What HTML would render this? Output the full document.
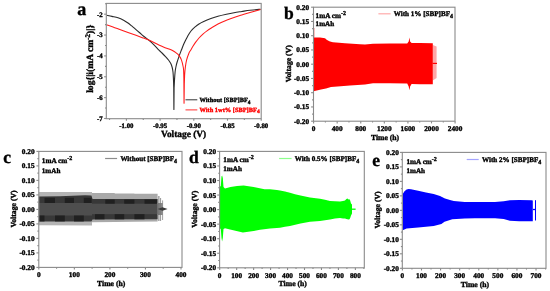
<!DOCTYPE html>
<html><head><meta charset="utf-8"><style>
html,body{margin:0;padding:0;background:#fff;width:550px;height:291px;overflow:hidden}
svg{display:block;filter:blur(0.4px)}
text{font-family:'Liberation Serif', 'Times New Roman', serif;text-rendering:geometricPrecision;stroke-width:0.36px}
</style></head><body>
<svg width="550" height="291" viewBox="0 0 550 291">
<rect width="550" height="291" fill="#fff"/>
<path d="M106.60,15.20 C107.50,15.40 110.10,15.97 112.00,16.40 C113.90,16.83 116.07,17.17 118.00,17.80 C119.93,18.43 121.93,19.33 123.60,20.20 C125.27,21.07 126.60,22.00 128.00,23.00 C129.40,24.00 130.67,25.10 132.00,26.20 C133.33,27.30 134.67,28.47 136.00,29.60 C137.33,30.73 138.72,31.90 140.00,33.00 C141.28,34.10 142.05,34.87 143.70,36.20 C145.35,37.53 148.10,39.47 149.90,41.00 C151.70,42.53 153.08,43.97 154.50,45.40 C155.92,46.83 157.15,48.33 158.40,49.60 C159.65,50.87 160.82,51.83 162.00,53.00 C163.18,54.17 164.42,55.43 165.50,56.60 C166.58,57.77 167.62,58.85 168.50,60.00 C169.38,61.15 170.18,62.25 170.80,63.50 C171.42,64.75 171.83,66.08 172.20,67.50 C172.57,68.92 172.78,69.92 173.00,72.00 C173.22,74.08 173.38,77.33 173.50,80.00 C173.62,82.67 173.71,86.67 173.75,88.00 L173.90,109.40 L174.10,88.00 C174.17,86.67 174.33,82.67 174.50,80.00 C174.67,77.33 174.87,74.17 175.10,72.00 C175.33,69.83 175.58,68.58 175.90,67.00 C176.22,65.42 176.43,64.40 177.00,62.50 C177.57,60.60 178.55,57.72 179.30,55.60 C180.05,53.48 180.72,51.82 181.50,49.80 C182.28,47.78 182.97,45.77 184.00,43.50 C185.03,41.23 186.53,38.28 187.70,36.20 C188.87,34.12 189.70,32.60 191.00,31.00 C192.30,29.40 194.17,27.77 195.50,26.60 C196.83,25.43 197.72,24.80 199.00,24.00 C200.28,23.20 201.22,22.70 203.20,21.80 C205.18,20.90 208.43,19.53 210.90,18.60 C213.37,17.67 215.42,16.93 218.00,16.20 C220.58,15.47 223.73,14.78 226.40,14.20 C229.07,13.62 231.43,13.15 234.00,12.70 C236.57,12.25 239.13,11.90 241.80,11.50 C244.47,11.10 246.87,10.68 250.00,10.30 C253.13,9.92 258.83,9.38 260.60,9.20" fill="none" stroke="#2a2a2a" stroke-width="1.1" stroke-linejoin="round"/>
<path d="M106.60,24.80 C107.67,25.17 110.68,26.17 113.00,27.00 C115.32,27.83 118.00,28.88 120.50,29.80 C123.00,30.72 125.42,31.58 128.00,32.50 C130.58,33.42 133.50,34.40 136.00,35.30 C138.50,36.20 140.68,37.02 143.00,37.90 C145.32,38.78 147.90,39.75 149.90,40.60 C151.90,41.45 153.42,42.22 155.00,43.00 C156.58,43.78 157.90,44.60 159.40,45.30 C160.90,46.00 162.40,46.58 164.00,47.20 C165.60,47.82 167.58,48.45 169.00,49.00 C170.42,49.55 171.50,50.00 172.50,50.50 C173.50,51.00 174.12,51.38 175.00,52.00 C175.88,52.62 176.98,53.38 177.80,54.20 C178.62,55.02 179.32,56.00 179.90,56.90 C180.48,57.80 180.90,58.62 181.30,59.60 C181.70,60.58 182.00,61.65 182.30,62.80 C182.60,63.95 182.88,65.30 183.10,66.50 C183.32,67.70 183.47,68.08 183.60,70.00 C183.72,71.92 183.81,76.67 183.85,78.00 L184.05,103.20 L184.30,84.00 C184.37,82.33 184.53,76.73 184.70,74.00 C184.87,71.27 185.00,69.87 185.30,67.60 C185.60,65.33 185.90,62.80 186.50,60.40 C187.10,58.00 188.18,54.93 188.90,53.20 C189.62,51.47 190.10,51.20 190.80,50.00 C191.50,48.80 192.32,47.27 193.10,46.00 C193.88,44.73 194.52,43.73 195.50,42.40 C196.48,41.07 197.72,39.43 199.00,38.00 C200.28,36.57 201.87,35.00 203.20,33.80 C204.53,32.60 205.72,31.73 207.00,30.80 C208.28,29.87 209.07,29.33 210.90,28.20 C212.73,27.07 215.42,25.32 218.00,24.00 C220.58,22.68 223.73,21.40 226.40,20.30 C229.07,19.20 231.43,18.28 234.00,17.40 C236.57,16.52 239.13,15.82 241.80,15.00 C244.47,14.18 246.87,13.43 250.00,12.50 C253.13,11.57 258.83,9.92 260.60,9.40" fill="none" stroke="#ff1a1a" stroke-width="1.05" stroke-linejoin="round"/>
<rect x="106.3" y="3.4" width="154.90" height="115.30" fill="none" stroke="#8a8a8a" stroke-width="1.1"/>
<line x1="104.10" y1="14.20" x2="106.30" y2="14.20" stroke="#8a8a8a" stroke-width="1.1"/>
<text x="102.70" y="16.50" font-size="6.8" text-anchor="end" fill="#000" stroke="#000" font-weight="bold">-2</text>
<line x1="104.10" y1="35.06" x2="106.30" y2="35.06" stroke="#8a8a8a" stroke-width="1.1"/>
<text x="102.70" y="37.36" font-size="6.8" text-anchor="end" fill="#000" stroke="#000" font-weight="bold">-3</text>
<line x1="104.10" y1="55.92" x2="106.30" y2="55.92" stroke="#8a8a8a" stroke-width="1.1"/>
<text x="102.70" y="58.22" font-size="6.8" text-anchor="end" fill="#000" stroke="#000" font-weight="bold">-4</text>
<line x1="104.10" y1="76.78" x2="106.30" y2="76.78" stroke="#8a8a8a" stroke-width="1.1"/>
<text x="102.70" y="79.08" font-size="6.8" text-anchor="end" fill="#000" stroke="#000" font-weight="bold">-5</text>
<line x1="104.10" y1="97.64" x2="106.30" y2="97.64" stroke="#8a8a8a" stroke-width="1.1"/>
<text x="102.70" y="99.94" font-size="6.8" text-anchor="end" fill="#000" stroke="#000" font-weight="bold">-6</text>
<line x1="104.10" y1="118.50" x2="106.30" y2="118.50" stroke="#8a8a8a" stroke-width="1.1"/>
<text x="102.70" y="120.80" font-size="6.8" text-anchor="end" fill="#000" stroke="#000" font-weight="bold">-7</text>
<line x1="105.00" y1="3.77" x2="106.30" y2="3.77" stroke="#8a8a8a" stroke-width="1.1"/>
<line x1="105.00" y1="24.63" x2="106.30" y2="24.63" stroke="#8a8a8a" stroke-width="1.1"/>
<line x1="105.00" y1="45.49" x2="106.30" y2="45.49" stroke="#8a8a8a" stroke-width="1.1"/>
<line x1="105.00" y1="66.35" x2="106.30" y2="66.35" stroke="#8a8a8a" stroke-width="1.1"/>
<line x1="105.00" y1="87.21" x2="106.30" y2="87.21" stroke="#8a8a8a" stroke-width="1.1"/>
<line x1="105.00" y1="108.07" x2="106.30" y2="108.07" stroke="#8a8a8a" stroke-width="1.1"/>
<line x1="126.40" y1="118.70" x2="126.40" y2="120.70" stroke="#8a8a8a" stroke-width="1.1"/>
<text x="126.40" y="127.70" font-size="6.8" text-anchor="middle" fill="#000" stroke="#000" font-weight="bold">-1.00</text>
<line x1="160.10" y1="118.70" x2="160.10" y2="120.70" stroke="#8a8a8a" stroke-width="1.1"/>
<text x="160.10" y="127.70" font-size="6.8" text-anchor="middle" fill="#000" stroke="#000" font-weight="bold">-0.95</text>
<line x1="193.80" y1="118.70" x2="193.80" y2="120.70" stroke="#8a8a8a" stroke-width="1.1"/>
<text x="193.80" y="127.70" font-size="6.8" text-anchor="middle" fill="#000" stroke="#000" font-weight="bold">-0.90</text>
<line x1="227.50" y1="118.70" x2="227.50" y2="120.70" stroke="#8a8a8a" stroke-width="1.1"/>
<text x="227.50" y="127.70" font-size="6.8" text-anchor="middle" fill="#000" stroke="#000" font-weight="bold">-0.85</text>
<line x1="261.20" y1="118.70" x2="261.20" y2="120.70" stroke="#8a8a8a" stroke-width="1.1"/>
<text x="261.20" y="127.70" font-size="6.8" text-anchor="middle" fill="#000" stroke="#000" font-weight="bold">-0.80</text>
<line x1="109.55" y1="118.70" x2="109.55" y2="120.00" stroke="#8a8a8a" stroke-width="1.1"/>
<line x1="143.25" y1="118.70" x2="143.25" y2="120.00" stroke="#8a8a8a" stroke-width="1.1"/>
<line x1="176.95" y1="118.70" x2="176.95" y2="120.00" stroke="#8a8a8a" stroke-width="1.1"/>
<line x1="210.65" y1="118.70" x2="210.65" y2="120.00" stroke="#8a8a8a" stroke-width="1.1"/>
<line x1="244.35" y1="118.70" x2="244.35" y2="120.00" stroke="#8a8a8a" stroke-width="1.1"/>
<text x="183.60" y="137.20" font-size="9.4" text-anchor="middle" fill="#000" stroke="#000" font-weight="bold">Voltage (V)</text>
<text x="93.40" y="58.80" font-size="9.6" text-anchor="middle" fill="#000" stroke="#000" font-weight="bold" transform="rotate(-90 93.4 58.8)">log{|i(mA cm<tspan dy="-3.2" font-size="7">-2</tspan><tspan dy="3.2">)|}</tspan></text>
<text x="77.20" y="14.80" font-size="18" text-anchor="start" fill="#000" stroke="#000" font-weight="bold">a</text>
<line x1="185.50" y1="99.80" x2="197.30" y2="99.80" stroke="#333" stroke-width="1.0"/>
<text x="199.50" y="102.40" font-size="6.4" text-anchor="start" fill="#000" stroke="#000" font-weight="bold">Without [SBP]BF<tspan dy="1.5" font-size="5.4">4</tspan></text>
<line x1="185.50" y1="109.90" x2="197.30" y2="109.90" stroke="#ff3030" stroke-width="1.0"/>
<text x="199.50" y="111.90" font-size="6.4" text-anchor="start" fill="#ff0000" stroke="#ff0000" font-weight="bold">With 1wt% [SBP]BF<tspan dy="1.5" font-size="5.4">4</tspan></text>
<polygon points="313.60,37.40 320.00,37.50 325.00,38.30 327.00,40.00 330.00,41.60 333.00,42.30 345.00,43.20 360.00,44.20 365.00,44.60 373.00,43.80 390.00,43.50 407.20,43.40 408.70,41.40 409.40,37.60 410.10,41.40 411.60,43.10 420.00,43.00 432.80,43.30 432.80,84.30 420.00,84.30 411.60,84.00 410.10,86.40 409.40,90.20 408.70,86.40 407.20,83.60 390.00,83.30 373.00,83.20 365.00,84.60 350.00,85.60 337.50,86.40 331.00,86.90 326.00,88.40 321.00,89.60 313.60,91.20" fill="#ff0000"/>
<line x1="313.90" y1="28.00" x2="313.90" y2="38.00" stroke="#ff4040" stroke-width="0.8"/>
<polygon points="432.80,45.00 436.60,46.50 436.60,78.00 432.80,80.50" fill="#ff0000" opacity="0.35"/>
<line x1="432.50" y1="63.40" x2="437.00" y2="63.40" stroke="#ff0000" stroke-width="1.2"/>
<rect x="313.5" y="7.2" width="141.50" height="114.00" fill="none" stroke="#8a8a8a" stroke-width="1.1"/>
<line x1="311.10" y1="7.20" x2="313.50" y2="7.20" stroke="#8a8a8a" stroke-width="1.1"/>
<text x="309.10" y="9.70" font-size="7.3" text-anchor="end" fill="#000" stroke="#000" font-weight="bold">0.20</text>
<line x1="311.10" y1="21.45" x2="313.50" y2="21.45" stroke="#8a8a8a" stroke-width="1.1"/>
<text x="309.10" y="23.95" font-size="7.3" text-anchor="end" fill="#000" stroke="#000" font-weight="bold">0.15</text>
<line x1="311.10" y1="35.70" x2="313.50" y2="35.70" stroke="#8a8a8a" stroke-width="1.1"/>
<text x="309.10" y="38.20" font-size="7.3" text-anchor="end" fill="#000" stroke="#000" font-weight="bold">0.10</text>
<line x1="311.10" y1="49.95" x2="313.50" y2="49.95" stroke="#8a8a8a" stroke-width="1.1"/>
<text x="309.10" y="52.45" font-size="7.3" text-anchor="end" fill="#000" stroke="#000" font-weight="bold">0.05</text>
<line x1="311.10" y1="64.20" x2="313.50" y2="64.20" stroke="#8a8a8a" stroke-width="1.1"/>
<text x="309.10" y="66.70" font-size="7.3" text-anchor="end" fill="#000" stroke="#000" font-weight="bold">0.00</text>
<line x1="311.10" y1="78.45" x2="313.50" y2="78.45" stroke="#8a8a8a" stroke-width="1.1"/>
<text x="309.10" y="80.95" font-size="7.3" text-anchor="end" fill="#000" stroke="#000" font-weight="bold">-0.05</text>
<line x1="311.10" y1="92.70" x2="313.50" y2="92.70" stroke="#8a8a8a" stroke-width="1.1"/>
<text x="309.10" y="95.20" font-size="7.3" text-anchor="end" fill="#000" stroke="#000" font-weight="bold">-0.10</text>
<line x1="311.10" y1="106.95" x2="313.50" y2="106.95" stroke="#8a8a8a" stroke-width="1.1"/>
<text x="309.10" y="109.45" font-size="7.3" text-anchor="end" fill="#000" stroke="#000" font-weight="bold">-0.15</text>
<line x1="311.10" y1="121.20" x2="313.50" y2="121.20" stroke="#8a8a8a" stroke-width="1.1"/>
<text x="309.10" y="123.70" font-size="7.3" text-anchor="end" fill="#000" stroke="#000" font-weight="bold">-0.20</text>
<line x1="312.10" y1="14.33" x2="313.50" y2="14.33" stroke="#8a8a8a" stroke-width="1.1"/>
<line x1="312.10" y1="28.58" x2="313.50" y2="28.58" stroke="#8a8a8a" stroke-width="1.1"/>
<line x1="312.10" y1="42.83" x2="313.50" y2="42.83" stroke="#8a8a8a" stroke-width="1.1"/>
<line x1="312.10" y1="57.08" x2="313.50" y2="57.08" stroke="#8a8a8a" stroke-width="1.1"/>
<line x1="312.10" y1="71.33" x2="313.50" y2="71.33" stroke="#8a8a8a" stroke-width="1.1"/>
<line x1="312.10" y1="85.58" x2="313.50" y2="85.58" stroke="#8a8a8a" stroke-width="1.1"/>
<line x1="312.10" y1="99.83" x2="313.50" y2="99.83" stroke="#8a8a8a" stroke-width="1.1"/>
<line x1="312.10" y1="114.08" x2="313.50" y2="114.08" stroke="#8a8a8a" stroke-width="1.1"/>
<line x1="313.60" y1="121.20" x2="313.60" y2="123.40" stroke="#8a8a8a" stroke-width="1.1"/>
<text x="313.60" y="131.20" font-size="7.3" text-anchor="middle" fill="#000" stroke="#000" font-weight="bold">0</text>
<line x1="325.39" y1="121.20" x2="325.39" y2="122.50" stroke="#8a8a8a" stroke-width="1.1"/>
<line x1="337.18" y1="121.20" x2="337.18" y2="123.40" stroke="#8a8a8a" stroke-width="1.1"/>
<text x="337.18" y="131.20" font-size="7.3" text-anchor="middle" fill="#000" stroke="#000" font-weight="bold">400</text>
<line x1="348.97" y1="121.20" x2="348.97" y2="122.50" stroke="#8a8a8a" stroke-width="1.1"/>
<line x1="360.76" y1="121.20" x2="360.76" y2="123.40" stroke="#8a8a8a" stroke-width="1.1"/>
<text x="360.76" y="131.20" font-size="7.3" text-anchor="middle" fill="#000" stroke="#000" font-weight="bold">800</text>
<line x1="372.55" y1="121.20" x2="372.55" y2="122.50" stroke="#8a8a8a" stroke-width="1.1"/>
<line x1="384.34" y1="121.20" x2="384.34" y2="123.40" stroke="#8a8a8a" stroke-width="1.1"/>
<text x="384.34" y="131.20" font-size="7.3" text-anchor="middle" fill="#000" stroke="#000" font-weight="bold">1200</text>
<line x1="396.13" y1="121.20" x2="396.13" y2="122.50" stroke="#8a8a8a" stroke-width="1.1"/>
<line x1="407.92" y1="121.20" x2="407.92" y2="123.40" stroke="#8a8a8a" stroke-width="1.1"/>
<text x="407.92" y="131.20" font-size="7.3" text-anchor="middle" fill="#000" stroke="#000" font-weight="bold">1600</text>
<line x1="419.71" y1="121.20" x2="419.71" y2="122.50" stroke="#8a8a8a" stroke-width="1.1"/>
<line x1="431.50" y1="121.20" x2="431.50" y2="123.40" stroke="#8a8a8a" stroke-width="1.1"/>
<text x="431.50" y="131.20" font-size="7.3" text-anchor="middle" fill="#000" stroke="#000" font-weight="bold">2000</text>
<line x1="443.29" y1="121.20" x2="443.29" y2="122.50" stroke="#8a8a8a" stroke-width="1.1"/>
<line x1="455.08" y1="121.20" x2="455.08" y2="123.40" stroke="#8a8a8a" stroke-width="1.1"/>
<text x="455.08" y="131.20" font-size="7.3" text-anchor="middle" fill="#000" stroke="#000" font-weight="bold">2400</text>
<text x="385.05" y="139.80" font-size="7.7" text-anchor="middle" fill="#000" stroke="#000" font-weight="bold">Time (h)</text>
<text x="290.90" y="63.80" font-size="7.7" text-anchor="middle" fill="#000" stroke="#000" font-weight="bold" transform="rotate(-90 290.9 63.800000000000004)">Voltage (V)</text>
<text x="284.00" y="18.90" font-size="17.5" text-anchor="start" fill="#000" stroke="#000" font-weight="bold">b</text>
<line x1="378.40" y1="13.80" x2="390.60" y2="13.80" stroke="#ffaaaa" stroke-width="1.2"/>
<text x="393.80" y="16.20" font-size="7.1" text-anchor="start" fill="#000" stroke="#000" font-weight="bold">With 1% [SBP]BF<tspan dy="1.6" font-size="6">4</tspan></text>
<text x="315.60" y="17.70" font-size="7.2" text-anchor="start" fill="#000" stroke="#000" font-weight="bold">1mA cm<tspan dy="-3.0" font-size="6">-2</tspan></text>
<text x="315.60" y="26.30" font-size="7.1" text-anchor="start" fill="#000" stroke="#000" font-weight="bold">1mAh</text>
<polygon points="38.80,192.00 92.00,192.00 92.00,225.60 38.80,225.30" fill="#b4b4b4"/>
<polygon points="92.00,193.10 114.70,193.10 114.70,193.40 134.40,193.40 134.40,193.80 157.60,193.80 157.60,221.60 134.40,221.80 114.70,222.10 92.00,222.30" fill="#a9a9a9"/>
<polygon points="38.80,196.50 60.00,196.30 85.00,195.30 91.50,195.50 92.50,198.90 157.60,198.90 157.60,219.30 92.50,219.50 91.50,221.40 38.80,221.40" fill="#383838"/>
<rect x="38.8" y="203" width="53.2" height="12.5" fill="#4e4e4e"/>
<rect x="92" y="203.7" width="65.6" height="10.5" fill="#4e4e4e"/>
<rect x="44.5" y="197.8" width="10.50" height="5.2" fill="#202020"/>
<rect x="64.8" y="197.8" width="9.20" height="5.2" fill="#202020"/>
<rect x="83.8" y="197.8" width="7.80" height="5.2" fill="#202020"/>
<rect x="105.3" y="199.6" width="9.40" height="4.1" fill="#202020"/>
<rect x="124.2" y="199.6" width="10.20" height="4.1" fill="#202020"/>
<rect x="144.5" y="199.6" width="12.40" height="4.1" fill="#202020"/>
<rect x="39.3" y="215.5" width="5.20" height="5.9" fill="#202020"/>
<rect x="55" y="215.5" width="9.80" height="5.9" fill="#202020"/>
<rect x="74" y="215.5" width="9.80" height="5.9" fill="#202020"/>
<rect x="95" y="214.2" width="9.50" height="5.1" fill="#202020"/>
<rect x="114.7" y="214.2" width="9.50" height="5.1" fill="#202020"/>
<rect x="134.4" y="214.2" width="10.10" height="5.1" fill="#202020"/>
<rect x="157.6" y="203" width="5.2" height="12" fill="#8a8a8a"/>
<line x1="158.90" y1="196.00" x2="158.90" y2="221.00" stroke="#666" stroke-width="0.9"/>
<line x1="160.60" y1="198.00" x2="160.60" y2="221.00" stroke="#777" stroke-width="0.8"/>
<line x1="162.60" y1="200.40" x2="162.60" y2="220.00" stroke="#888" stroke-width="0.8"/>
<polygon points="157.60,209.00 162.50,207.30 167.60,209.00 162.50,210.70" fill="#3a3a3a"/>
<rect x="38.8" y="151.4" width="143.20" height="116.00" fill="none" stroke="#8a8a8a" stroke-width="1.1"/>
<line x1="36.40" y1="151.40" x2="38.80" y2="151.40" stroke="#8a8a8a" stroke-width="1.1"/>
<text x="34.60" y="153.90" font-size="7.3" text-anchor="end" fill="#000" stroke="#000" font-weight="bold">0.20</text>
<line x1="36.40" y1="165.90" x2="38.80" y2="165.90" stroke="#8a8a8a" stroke-width="1.1"/>
<text x="34.60" y="168.40" font-size="7.3" text-anchor="end" fill="#000" stroke="#000" font-weight="bold">0.15</text>
<line x1="36.40" y1="180.40" x2="38.80" y2="180.40" stroke="#8a8a8a" stroke-width="1.1"/>
<text x="34.60" y="182.90" font-size="7.3" text-anchor="end" fill="#000" stroke="#000" font-weight="bold">0.10</text>
<line x1="36.40" y1="194.90" x2="38.80" y2="194.90" stroke="#8a8a8a" stroke-width="1.1"/>
<text x="34.60" y="197.40" font-size="7.3" text-anchor="end" fill="#000" stroke="#000" font-weight="bold">0.05</text>
<line x1="36.40" y1="209.40" x2="38.80" y2="209.40" stroke="#8a8a8a" stroke-width="1.1"/>
<text x="34.60" y="211.90" font-size="7.3" text-anchor="end" fill="#000" stroke="#000" font-weight="bold">0.00</text>
<line x1="36.40" y1="223.90" x2="38.80" y2="223.90" stroke="#8a8a8a" stroke-width="1.1"/>
<text x="34.60" y="226.40" font-size="7.3" text-anchor="end" fill="#000" stroke="#000" font-weight="bold">-0.05</text>
<line x1="36.40" y1="238.40" x2="38.80" y2="238.40" stroke="#8a8a8a" stroke-width="1.1"/>
<text x="34.60" y="240.90" font-size="7.3" text-anchor="end" fill="#000" stroke="#000" font-weight="bold">-0.10</text>
<line x1="36.40" y1="252.90" x2="38.80" y2="252.90" stroke="#8a8a8a" stroke-width="1.1"/>
<text x="34.60" y="255.40" font-size="7.3" text-anchor="end" fill="#000" stroke="#000" font-weight="bold">-0.15</text>
<line x1="36.40" y1="267.40" x2="38.80" y2="267.40" stroke="#8a8a8a" stroke-width="1.1"/>
<text x="34.60" y="269.90" font-size="7.3" text-anchor="end" fill="#000" stroke="#000" font-weight="bold">-0.20</text>
<line x1="37.40" y1="158.65" x2="38.80" y2="158.65" stroke="#8a8a8a" stroke-width="1.1"/>
<line x1="37.40" y1="173.15" x2="38.80" y2="173.15" stroke="#8a8a8a" stroke-width="1.1"/>
<line x1="37.40" y1="187.65" x2="38.80" y2="187.65" stroke="#8a8a8a" stroke-width="1.1"/>
<line x1="37.40" y1="202.15" x2="38.80" y2="202.15" stroke="#8a8a8a" stroke-width="1.1"/>
<line x1="37.40" y1="216.65" x2="38.80" y2="216.65" stroke="#8a8a8a" stroke-width="1.1"/>
<line x1="37.40" y1="231.15" x2="38.80" y2="231.15" stroke="#8a8a8a" stroke-width="1.1"/>
<line x1="37.40" y1="245.65" x2="38.80" y2="245.65" stroke="#8a8a8a" stroke-width="1.1"/>
<line x1="37.40" y1="260.15" x2="38.80" y2="260.15" stroke="#8a8a8a" stroke-width="1.1"/>
<line x1="38.80" y1="267.40" x2="38.80" y2="269.60" stroke="#8a8a8a" stroke-width="1.1"/>
<text x="38.80" y="277.40" font-size="7.3" text-anchor="middle" fill="#000" stroke="#000" font-weight="bold">0</text>
<line x1="56.57" y1="267.40" x2="56.57" y2="268.70" stroke="#8a8a8a" stroke-width="1.1"/>
<line x1="74.35" y1="267.40" x2="74.35" y2="269.60" stroke="#8a8a8a" stroke-width="1.1"/>
<text x="74.35" y="277.40" font-size="7.3" text-anchor="middle" fill="#000" stroke="#000" font-weight="bold">100</text>
<line x1="92.12" y1="267.40" x2="92.12" y2="268.70" stroke="#8a8a8a" stroke-width="1.1"/>
<line x1="109.90" y1="267.40" x2="109.90" y2="269.60" stroke="#8a8a8a" stroke-width="1.1"/>
<text x="109.90" y="277.40" font-size="7.3" text-anchor="middle" fill="#000" stroke="#000" font-weight="bold">200</text>
<line x1="127.67" y1="267.40" x2="127.67" y2="268.70" stroke="#8a8a8a" stroke-width="1.1"/>
<line x1="145.45" y1="267.40" x2="145.45" y2="269.60" stroke="#8a8a8a" stroke-width="1.1"/>
<text x="145.45" y="277.40" font-size="7.3" text-anchor="middle" fill="#000" stroke="#000" font-weight="bold">300</text>
<line x1="163.22" y1="267.40" x2="163.22" y2="268.70" stroke="#8a8a8a" stroke-width="1.1"/>
<line x1="181.00" y1="267.40" x2="181.00" y2="269.60" stroke="#8a8a8a" stroke-width="1.1"/>
<text x="181.00" y="277.40" font-size="7.3" text-anchor="middle" fill="#000" stroke="#000" font-weight="bold">400</text>
<text x="111.20" y="286.00" font-size="7.7" text-anchor="middle" fill="#000" stroke="#000" font-weight="bold">Time (h)</text>
<text x="16.20" y="209.00" font-size="7.7" text-anchor="middle" fill="#000" stroke="#000" font-weight="bold" transform="rotate(-90 16.199999999999996 208.99999999999997)">Voltage (V)</text>
<text x="3.20" y="162.90" font-size="17.5" text-anchor="start" fill="#000" stroke="#000" font-weight="bold">c</text>
<line x1="105.10" y1="158.50" x2="117.10" y2="158.50" stroke="#8c8c8c" stroke-width="1.2"/>
<text x="120.40" y="160.90" font-size="7.1" text-anchor="start" fill="#000" stroke="#000" font-weight="bold">Without [SBP]BF<tspan dy="1.6" font-size="6">4</tspan></text>
<text x="41.80" y="163.00" font-size="7.2" text-anchor="start" fill="#000" stroke="#000" font-weight="bold">1mA cm<tspan dy="-3.0" font-size="6">-2</tspan></text>
<text x="41.80" y="172.90" font-size="7.1" text-anchor="start" fill="#000" stroke="#000" font-weight="bold">1mAh</text>
<polygon points="219.60,187.00 220.80,186.00 221.50,176.50 222.10,175.40 222.80,178.00 223.50,187.00 225.00,188.60 230.50,187.00 237.00,186.00 243.60,185.50 253.70,187.00 264.50,189.20 270.00,189.30 276.90,190.10 280.00,190.60 285.00,191.60 290.00,192.70 295.00,194.20 300.50,195.50 310.00,197.50 316.00,198.20 320.00,198.70 325.00,199.80 330.00,200.90 335.00,201.30 340.00,201.40 343.00,201.00 345.00,200.50 346.40,199.00 347.50,198.60 348.50,199.50 349.50,199.20 350.20,200.50 351.00,203.50 352.00,204.50 352.00,213.50 351.00,215.50 350.20,218.00 349.50,219.20 348.50,219.40 347.50,219.20 346.40,219.00 345.00,218.60 343.00,218.40 340.00,217.90 335.00,218.50 330.00,219.40 320.00,220.90 310.00,221.80 300.50,223.40 290.00,225.90 285.00,226.80 280.00,227.70 270.00,228.60 260.00,229.80 253.70,231.00 242.90,232.50 230.00,229.50 225.00,228.20 223.50,229.00 222.80,238.00 222.10,241.40 221.50,238.00 220.80,229.00 219.60,228.20" fill="#00ff00"/>
<line x1="351.00" y1="209.20" x2="355.60" y2="209.20" stroke="#00ff00" stroke-width="1.3"/>
<rect x="219.6" y="151.4" width="144.70" height="116.40" fill="none" stroke="#8a8a8a" stroke-width="1.1"/>
<line x1="217.20" y1="151.40" x2="219.60" y2="151.40" stroke="#8a8a8a" stroke-width="1.1"/>
<text x="216.10" y="153.90" font-size="7.3" text-anchor="end" fill="#000" stroke="#000" font-weight="bold">0.20</text>
<line x1="217.20" y1="165.95" x2="219.60" y2="165.95" stroke="#8a8a8a" stroke-width="1.1"/>
<text x="216.10" y="168.45" font-size="7.3" text-anchor="end" fill="#000" stroke="#000" font-weight="bold">0.15</text>
<line x1="217.20" y1="180.50" x2="219.60" y2="180.50" stroke="#8a8a8a" stroke-width="1.1"/>
<text x="216.10" y="183.00" font-size="7.3" text-anchor="end" fill="#000" stroke="#000" font-weight="bold">0.10</text>
<line x1="217.20" y1="195.05" x2="219.60" y2="195.05" stroke="#8a8a8a" stroke-width="1.1"/>
<text x="216.10" y="197.55" font-size="7.3" text-anchor="end" fill="#000" stroke="#000" font-weight="bold">0.05</text>
<line x1="217.20" y1="209.60" x2="219.60" y2="209.60" stroke="#8a8a8a" stroke-width="1.1"/>
<text x="216.10" y="212.10" font-size="7.3" text-anchor="end" fill="#000" stroke="#000" font-weight="bold">0.00</text>
<line x1="217.20" y1="224.15" x2="219.60" y2="224.15" stroke="#8a8a8a" stroke-width="1.1"/>
<text x="216.10" y="226.65" font-size="7.3" text-anchor="end" fill="#000" stroke="#000" font-weight="bold">-0.05</text>
<line x1="217.20" y1="238.70" x2="219.60" y2="238.70" stroke="#8a8a8a" stroke-width="1.1"/>
<text x="216.10" y="241.20" font-size="7.3" text-anchor="end" fill="#000" stroke="#000" font-weight="bold">-0.10</text>
<line x1="217.20" y1="253.25" x2="219.60" y2="253.25" stroke="#8a8a8a" stroke-width="1.1"/>
<text x="216.10" y="255.75" font-size="7.3" text-anchor="end" fill="#000" stroke="#000" font-weight="bold">-0.15</text>
<line x1="217.20" y1="267.80" x2="219.60" y2="267.80" stroke="#8a8a8a" stroke-width="1.1"/>
<text x="216.10" y="270.30" font-size="7.3" text-anchor="end" fill="#000" stroke="#000" font-weight="bold">-0.20</text>
<line x1="218.20" y1="158.68" x2="219.60" y2="158.68" stroke="#8a8a8a" stroke-width="1.1"/>
<line x1="218.20" y1="173.23" x2="219.60" y2="173.23" stroke="#8a8a8a" stroke-width="1.1"/>
<line x1="218.20" y1="187.78" x2="219.60" y2="187.78" stroke="#8a8a8a" stroke-width="1.1"/>
<line x1="218.20" y1="202.33" x2="219.60" y2="202.33" stroke="#8a8a8a" stroke-width="1.1"/>
<line x1="218.20" y1="216.88" x2="219.60" y2="216.88" stroke="#8a8a8a" stroke-width="1.1"/>
<line x1="218.20" y1="231.43" x2="219.60" y2="231.43" stroke="#8a8a8a" stroke-width="1.1"/>
<line x1="218.20" y1="245.98" x2="219.60" y2="245.98" stroke="#8a8a8a" stroke-width="1.1"/>
<line x1="218.20" y1="260.53" x2="219.60" y2="260.53" stroke="#8a8a8a" stroke-width="1.1"/>
<line x1="219.70" y1="267.80" x2="219.70" y2="270.00" stroke="#8a8a8a" stroke-width="1.1"/>
<text x="219.70" y="277.80" font-size="7.3" text-anchor="middle" fill="#000" stroke="#000" font-weight="bold">0</text>
<line x1="228.18" y1="267.80" x2="228.18" y2="269.10" stroke="#8a8a8a" stroke-width="1.1"/>
<line x1="236.66" y1="267.80" x2="236.66" y2="270.00" stroke="#8a8a8a" stroke-width="1.1"/>
<text x="236.66" y="277.80" font-size="7.3" text-anchor="middle" fill="#000" stroke="#000" font-weight="bold">100</text>
<line x1="245.14" y1="267.80" x2="245.14" y2="269.10" stroke="#8a8a8a" stroke-width="1.1"/>
<line x1="253.62" y1="267.80" x2="253.62" y2="270.00" stroke="#8a8a8a" stroke-width="1.1"/>
<text x="253.62" y="277.80" font-size="7.3" text-anchor="middle" fill="#000" stroke="#000" font-weight="bold">200</text>
<line x1="262.10" y1="267.80" x2="262.10" y2="269.10" stroke="#8a8a8a" stroke-width="1.1"/>
<line x1="270.58" y1="267.80" x2="270.58" y2="270.00" stroke="#8a8a8a" stroke-width="1.1"/>
<text x="270.58" y="277.80" font-size="7.3" text-anchor="middle" fill="#000" stroke="#000" font-weight="bold">300</text>
<line x1="279.06" y1="267.80" x2="279.06" y2="269.10" stroke="#8a8a8a" stroke-width="1.1"/>
<line x1="287.54" y1="267.80" x2="287.54" y2="270.00" stroke="#8a8a8a" stroke-width="1.1"/>
<text x="287.54" y="277.80" font-size="7.3" text-anchor="middle" fill="#000" stroke="#000" font-weight="bold">400</text>
<line x1="296.02" y1="267.80" x2="296.02" y2="269.10" stroke="#8a8a8a" stroke-width="1.1"/>
<line x1="304.50" y1="267.80" x2="304.50" y2="270.00" stroke="#8a8a8a" stroke-width="1.1"/>
<text x="304.50" y="277.80" font-size="7.3" text-anchor="middle" fill="#000" stroke="#000" font-weight="bold">500</text>
<line x1="312.98" y1="267.80" x2="312.98" y2="269.10" stroke="#8a8a8a" stroke-width="1.1"/>
<line x1="321.46" y1="267.80" x2="321.46" y2="270.00" stroke="#8a8a8a" stroke-width="1.1"/>
<text x="321.46" y="277.80" font-size="7.3" text-anchor="middle" fill="#000" stroke="#000" font-weight="bold">600</text>
<line x1="329.94" y1="267.80" x2="329.94" y2="269.10" stroke="#8a8a8a" stroke-width="1.1"/>
<line x1="338.42" y1="267.80" x2="338.42" y2="270.00" stroke="#8a8a8a" stroke-width="1.1"/>
<text x="338.42" y="277.80" font-size="7.3" text-anchor="middle" fill="#000" stroke="#000" font-weight="bold">700</text>
<line x1="346.90" y1="267.80" x2="346.90" y2="269.10" stroke="#8a8a8a" stroke-width="1.1"/>
<line x1="355.38" y1="267.80" x2="355.38" y2="270.00" stroke="#8a8a8a" stroke-width="1.1"/>
<text x="355.38" y="277.80" font-size="7.3" text-anchor="middle" fill="#000" stroke="#000" font-weight="bold">800</text>
<line x1="363.86" y1="267.80" x2="363.86" y2="269.10" stroke="#8a8a8a" stroke-width="1.1"/>
<text x="292.75" y="286.40" font-size="7.7" text-anchor="middle" fill="#000" stroke="#000" font-weight="bold">Time (h)</text>
<text x="197.00" y="209.20" font-size="7.7" text-anchor="middle" fill="#000" stroke="#000" font-weight="bold" transform="rotate(-90 197.0 209.20000000000002)">Voltage (V)</text>
<text x="189.00" y="162.90" font-size="17.5" text-anchor="start" fill="#000" stroke="#000" font-weight="bold">d</text>
<line x1="279.10" y1="158.50" x2="291.60" y2="158.50" stroke="#8cff8c" stroke-width="1.2"/>
<text x="294.70" y="160.90" font-size="7.1" text-anchor="start" fill="#000" stroke="#000" font-weight="bold">With 0.5% [SBP]BF<tspan dy="1.6" font-size="6">4</tspan></text>
<text x="223.30" y="162.30" font-size="7.2" text-anchor="start" fill="#000" stroke="#000" font-weight="bold">1mA cm<tspan dy="-3.0" font-size="6">-2</tspan></text>
<text x="223.30" y="171.30" font-size="7.1" text-anchor="start" fill="#000" stroke="#000" font-weight="bold">1mAh</text>
<polygon points="402.70,194.00 404.50,191.20 406.60,189.60 408.60,189.00 411.00,189.30 418.20,190.80 426.00,192.40 433.70,194.10 440.00,195.90 445.00,198.40 450.00,200.10 453.80,201.00 464.70,202.10 475.00,202.10 495.00,202.00 503.70,201.20 509.90,200.30 519.20,200.00 531.60,200.30 532.80,200.50 532.80,221.30 519.20,221.30 509.90,220.80 503.70,219.00 495.00,218.30 475.00,218.30 464.70,218.60 452.30,219.30 444.50,221.70 441.40,224.00 433.70,226.00 418.20,227.60 406.60,228.60 402.70,230.20" fill="#0000ff"/>
<line x1="535.50" y1="200.20" x2="535.50" y2="220.50" stroke="#0000ff" stroke-width="1.0"/>
<line x1="533.00" y1="209.50" x2="535.50" y2="209.50" stroke="#0000ff" stroke-width="1.3"/>
<rect x="402.3" y="152.4" width="143.70" height="115.90" fill="none" stroke="#8a8a8a" stroke-width="1.1"/>
<line x1="399.90" y1="152.40" x2="402.30" y2="152.40" stroke="#8a8a8a" stroke-width="1.1"/>
<text x="398.90" y="154.90" font-size="7.3" text-anchor="end" fill="#000" stroke="#000" font-weight="bold">0.20</text>
<line x1="399.90" y1="166.89" x2="402.30" y2="166.89" stroke="#8a8a8a" stroke-width="1.1"/>
<text x="398.90" y="169.39" font-size="7.3" text-anchor="end" fill="#000" stroke="#000" font-weight="bold">0.15</text>
<line x1="399.90" y1="181.38" x2="402.30" y2="181.38" stroke="#8a8a8a" stroke-width="1.1"/>
<text x="398.90" y="183.88" font-size="7.3" text-anchor="end" fill="#000" stroke="#000" font-weight="bold">0.10</text>
<line x1="399.90" y1="195.86" x2="402.30" y2="195.86" stroke="#8a8a8a" stroke-width="1.1"/>
<text x="398.90" y="198.36" font-size="7.3" text-anchor="end" fill="#000" stroke="#000" font-weight="bold">0.05</text>
<line x1="399.90" y1="210.35" x2="402.30" y2="210.35" stroke="#8a8a8a" stroke-width="1.1"/>
<text x="398.90" y="212.85" font-size="7.3" text-anchor="end" fill="#000" stroke="#000" font-weight="bold">0.00</text>
<line x1="399.90" y1="224.84" x2="402.30" y2="224.84" stroke="#8a8a8a" stroke-width="1.1"/>
<text x="398.90" y="227.34" font-size="7.3" text-anchor="end" fill="#000" stroke="#000" font-weight="bold">-0.05</text>
<line x1="399.90" y1="239.33" x2="402.30" y2="239.33" stroke="#8a8a8a" stroke-width="1.1"/>
<text x="398.90" y="241.83" font-size="7.3" text-anchor="end" fill="#000" stroke="#000" font-weight="bold">-0.10</text>
<line x1="399.90" y1="253.81" x2="402.30" y2="253.81" stroke="#8a8a8a" stroke-width="1.1"/>
<text x="398.90" y="256.31" font-size="7.3" text-anchor="end" fill="#000" stroke="#000" font-weight="bold">-0.15</text>
<line x1="399.90" y1="268.30" x2="402.30" y2="268.30" stroke="#8a8a8a" stroke-width="1.1"/>
<text x="398.90" y="270.80" font-size="7.3" text-anchor="end" fill="#000" stroke="#000" font-weight="bold">-0.20</text>
<line x1="400.90" y1="159.64" x2="402.30" y2="159.64" stroke="#8a8a8a" stroke-width="1.1"/>
<line x1="400.90" y1="174.13" x2="402.30" y2="174.13" stroke="#8a8a8a" stroke-width="1.1"/>
<line x1="400.90" y1="188.62" x2="402.30" y2="188.62" stroke="#8a8a8a" stroke-width="1.1"/>
<line x1="400.90" y1="203.11" x2="402.30" y2="203.11" stroke="#8a8a8a" stroke-width="1.1"/>
<line x1="400.90" y1="217.59" x2="402.30" y2="217.59" stroke="#8a8a8a" stroke-width="1.1"/>
<line x1="400.90" y1="232.08" x2="402.30" y2="232.08" stroke="#8a8a8a" stroke-width="1.1"/>
<line x1="400.90" y1="246.57" x2="402.30" y2="246.57" stroke="#8a8a8a" stroke-width="1.1"/>
<line x1="400.90" y1="261.06" x2="402.30" y2="261.06" stroke="#8a8a8a" stroke-width="1.1"/>
<line x1="402.40" y1="268.30" x2="402.40" y2="270.50" stroke="#8a8a8a" stroke-width="1.1"/>
<text x="402.40" y="278.30" font-size="7.3" text-anchor="middle" fill="#000" stroke="#000" font-weight="bold">0</text>
<line x1="411.94" y1="268.30" x2="411.94" y2="269.60" stroke="#8a8a8a" stroke-width="1.1"/>
<line x1="421.49" y1="268.30" x2="421.49" y2="270.50" stroke="#8a8a8a" stroke-width="1.1"/>
<text x="421.49" y="278.30" font-size="7.3" text-anchor="middle" fill="#000" stroke="#000" font-weight="bold">100</text>
<line x1="431.03" y1="268.30" x2="431.03" y2="269.60" stroke="#8a8a8a" stroke-width="1.1"/>
<line x1="440.58" y1="268.30" x2="440.58" y2="270.50" stroke="#8a8a8a" stroke-width="1.1"/>
<text x="440.58" y="278.30" font-size="7.3" text-anchor="middle" fill="#000" stroke="#000" font-weight="bold">200</text>
<line x1="450.12" y1="268.30" x2="450.12" y2="269.60" stroke="#8a8a8a" stroke-width="1.1"/>
<line x1="459.67" y1="268.30" x2="459.67" y2="270.50" stroke="#8a8a8a" stroke-width="1.1"/>
<text x="459.67" y="278.30" font-size="7.3" text-anchor="middle" fill="#000" stroke="#000" font-weight="bold">300</text>
<line x1="469.21" y1="268.30" x2="469.21" y2="269.60" stroke="#8a8a8a" stroke-width="1.1"/>
<line x1="478.76" y1="268.30" x2="478.76" y2="270.50" stroke="#8a8a8a" stroke-width="1.1"/>
<text x="478.76" y="278.30" font-size="7.3" text-anchor="middle" fill="#000" stroke="#000" font-weight="bold">400</text>
<line x1="488.30" y1="268.30" x2="488.30" y2="269.60" stroke="#8a8a8a" stroke-width="1.1"/>
<line x1="497.85" y1="268.30" x2="497.85" y2="270.50" stroke="#8a8a8a" stroke-width="1.1"/>
<text x="497.85" y="278.30" font-size="7.3" text-anchor="middle" fill="#000" stroke="#000" font-weight="bold">500</text>
<line x1="507.39" y1="268.30" x2="507.39" y2="269.60" stroke="#8a8a8a" stroke-width="1.1"/>
<line x1="516.94" y1="268.30" x2="516.94" y2="270.50" stroke="#8a8a8a" stroke-width="1.1"/>
<text x="516.94" y="278.30" font-size="7.3" text-anchor="middle" fill="#000" stroke="#000" font-weight="bold">600</text>
<line x1="526.49" y1="268.30" x2="526.49" y2="269.60" stroke="#8a8a8a" stroke-width="1.1"/>
<line x1="536.03" y1="268.30" x2="536.03" y2="270.50" stroke="#8a8a8a" stroke-width="1.1"/>
<text x="536.03" y="278.30" font-size="7.3" text-anchor="middle" fill="#000" stroke="#000" font-weight="bold">700</text>
<line x1="545.57" y1="268.30" x2="545.57" y2="269.60" stroke="#8a8a8a" stroke-width="1.1"/>
<text x="474.95" y="286.90" font-size="7.7" text-anchor="middle" fill="#000" stroke="#000" font-weight="bold">Time (h)</text>
<text x="379.70" y="209.95" font-size="7.7" text-anchor="middle" fill="#000" stroke="#000" font-weight="bold" transform="rotate(-90 379.7 209.95000000000002)">Voltage (V)</text>
<text x="372.20" y="165.50" font-size="17.5" text-anchor="start" fill="#000" stroke="#000" font-weight="bold">e</text>
<line x1="466.70" y1="159.50" x2="478.70" y2="159.50" stroke="#a4a4ff" stroke-width="1.2"/>
<text x="482.00" y="161.90" font-size="7.1" text-anchor="start" fill="#000" stroke="#000" font-weight="bold">With 2% [SBP]BF<tspan dy="1.6" font-size="6">4</tspan></text>
<text x="406.50" y="163.50" font-size="7.2" text-anchor="start" fill="#000" stroke="#000" font-weight="bold">1mA cm<tspan dy="-3.0" font-size="6">-2</tspan></text>
<text x="406.50" y="173.10" font-size="7.1" text-anchor="start" fill="#000" stroke="#000" font-weight="bold">1mAh</text>
</svg>
</body></html>
